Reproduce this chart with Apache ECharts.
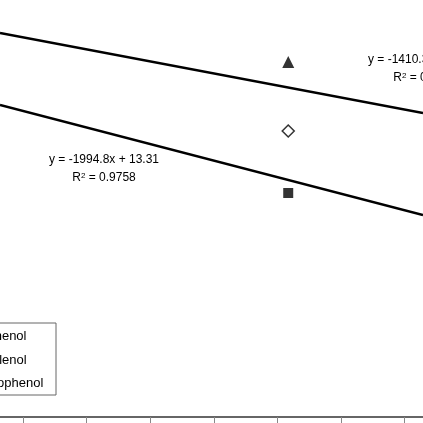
<!DOCTYPE html>
<html>
<head>
<meta charset="utf-8">
<script src="https://cdn.jsdelivr.net/npm/echarts@6/dist/echarts.min.js"></script>
<style>html,body{margin:0;padding:0;background:#fff}#c{width:423px;height:423px}</style>
</head>
<body>
<div id="c"></div>
<script>
// x in axis units (one tick = 1), y in arbitrary inverted units
var xMin = -0.3616, xMax = 6.289;
var tickValues = [0, 1, 2, 3, 4, 5, 6];
var lineX = [xMin, xMax];
var fitTop = [33, 113];
var fitBottom = [105, 215];
var ptX = 4.17;
var triangleY = 62;
var diamondY = 131;
var squareY = 193;
var legendNames = ['Phenol', 'Xylenol', 'Chlorophenol'];

var chart = echarts.init(document.getElementById('c'));
var F = 'Liberation Sans, Arial, sans-serif';

chart.setOption({
  animation: false,
  grid: { left: 0, right: 0, top: 0, bottom: 6 },
  xAxis: {
    type: 'value', min: xMin, max: xMax, position: 'bottom',
    axisLine: { show: true, onZero: false, lineStyle: { color: '#333', width: 1.5 } },
    axisTick: { show: true, customValues: tickValues, length: 6, lineStyle: { color: '#888' } },
    axisLabel: { show: false }, splitLine: { show: false }
  },
  yAxis: {
    type: 'value', min: 0, max: 417, inverse: true, show: false
  },
  series: [
    { type: 'line', data: lineX.map(function (x, i) { return [x, fitTop[i]]; }),
      symbol: 'none', lineStyle: { color: '#000', width: 2.5 }, silent: true },
    { type: 'line', data: lineX.map(function (x, i) { return [x, fitBottom[i]]; }),
      symbol: 'none', lineStyle: { color: '#000', width: 2.5 }, silent: true },
    { type: 'scatter', name: legendNames[0], data: [[ptX, triangleY]], symbol: 'triangle', symbolSize: 12, itemStyle: { color: '#000' } },
    { type: 'scatter', name: legendNames[1], data: [[ptX, diamondY]], symbol: 'diamond', symbolSize: 12, itemStyle: { color: '#fff', borderColor: '#000', borderWidth: 1.5 } },
    { type: 'scatter', name: legendNames[2], data: [[ptX, squareY]], symbol: 'rect', symbolSize: 10, itemStyle: { color: '#000' } }
  ],
  graphic: [
    { type: 'rect', shape: { x: -40, y: 323, width: 96, height: 72 }, style: { fill: '#fff', stroke: '#666', lineWidth: 1 } },
    { type: 'text', x: -14, y: 330, style: { text: legendNames[0], font: '13px ' + F, fill: '#000' } },
    { type: 'text', x: -16, y: 354, style: { text: legendNames[1], font: '13px ' + F, fill: '#000' } },
    { type: 'text', x: -34, y: 377, style: { text: legendNames[2], font: '13px ' + F, fill: '#000' } },
    { type: 'text', x: 104, y: 154, style: { text: 'y = -1994.8x + 13.31', font: '12px ' + F, fill: '#000', align: 'center' } },
    { type: 'text', x: 104, y: 172, style: { text: '{a|R}{s|2}{a| = 0.9758}', align: 'center', rich: { a: { font: '12px ' + F, fill: '#000', verticalAlign: 'bottom' }, s: { font: '8px ' + F, fill: '#000', verticalAlign: 'top' } } } },
    { type: 'text', x: 423, y: 54, style: { text: 'y = -1410.3x + 10.59', font: '12px ' + F, fill: '#000', align: 'center' } },
    { type: 'text', x: 425, y: 72, style: { text: '{a|R}{s|2}{a| = 0.9651}', align: 'center', rich: { a: { font: '12px ' + F, fill: '#000', verticalAlign: 'bottom' }, s: { font: '8px ' + F, fill: '#000', verticalAlign: 'top' } } } }
  ]
});
</script>
</body>
</html>
